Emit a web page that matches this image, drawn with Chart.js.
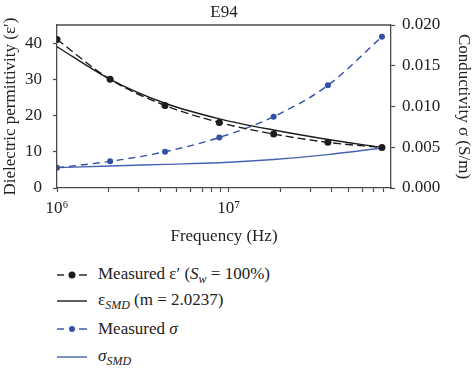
<!DOCTYPE html>
<html>
<head>
<meta charset="utf-8">
<script src="https://cdn.jsdelivr.net/npm/chart.js@4.4.0/dist/chart.umd.min.js"></script>
<style>
  body { margin: 0; background: #fff; }
  #wrap { position: relative; width: 474px; height: 250px; }
  #leyenda { position: relative; width: 474px; height: 119px; font-family: "Liberation Serif", "DejaVu Serif", serif; font-size: 17px; color: #222; }
  .fila { position: absolute; left: 57px; height: 24px; display: flex; align-items: center; white-space: nowrap; }
  .fila svg { margin-right: 11px; flex: none; }
  sub { font-size: 12px; vertical-align: -4px; }
</style>
</head>
<body>
<div id="wrap"><canvas id="grafica"></canvas></div>
<div id="leyenda"></div>
<script>
// valores
const frecuencias = [1.0e6, 2.04e6, 4.26e6, 8.83e6, 1.83e7, 3.79e7, 7.83e7];
const permitividadMedida = [41.0, 30.0, 22.8, 18.1, 14.9, 12.6, 11.2];
const permitividadSMD = [39.0, 30.0, 23.4, 19.1, 16.0, 13.4, 11.2];
const conductividadMedida = [0.00249, 0.00327, 0.00445, 0.00620, 0.00875, 0.01260, 0.01857];
const conductividadSMD = [0.0025, 0.0027, 0.0029, 0.0031, 0.0035, 0.0041, 0.0049];

const ticksPermitividad = [0, 10, 20, 30, 40];
const ticksConductividad = [0, 0.005, 0.010, 0.015, 0.020];
const ticksFrecuencia = [1e6, 2e6, 3e6, 4e6, 5e6, 6e6, 7e6, 8e6, 9e6, 1e7, 2e7, 3e7, 4e7, 5e7, 6e7, 7e7, 8e7];
const etiquetasFrecuencia = { 1000000: '10⁶', 10000000: '10⁷' };

const etiquetasLeyenda = [
  'Measured ε′ (<i>S</i><sub><i>w</i></sub> = 100%)',
  'ε<sub><i>SMD</i></sub> (m = 2.0237)',
  'Measured <i>σ</i>',
  '<i>σ</i><sub><i>SMD</i></sub>'
];

const fuente = '"Liberation Serif", "DejaVu Serif", serif';
const colorTexto = '#222';
const colorEje = '#4a4a4a';
const negro = '#1c1c1c';
const azul = '#3450a4';
const azulLinea = '#4862b2';

function puntos(valores) {
  return frecuencias.map((f, i) => ({ x: f, y: valores[i] }));
}

const marco = {
  id: 'marco',
  afterDraw(chart) {
    const { ctx, chartArea } = chart;
    ctx.save();
    ctx.strokeStyle = colorEje;
    ctx.lineWidth = 1.3;
    ctx.beginPath();
    ctx.moveTo(chartArea.left, chartArea.top);
    ctx.lineTo(chartArea.right, chartArea.top);
    ctx.stroke();
    ctx.restore();
  }
};

const ejeComun = {
  grid: { drawOnChartArea: false, drawTicks: true, tickLength: 4, color: colorEje, tickColor: colorEje, tickWidth: 1.2 },
  border: { display: true, color: colorEje, width: 1.3 }
};

const ctx = document.getElementById('grafica').getContext('2d');
const grafica = new Chart(ctx, {
  type: 'line',
  data: {
    datasets: [
      {
        label: 'Measured ε′',
        data: puntos(permitividadMedida),
        yAxisID: 'y',
        borderColor: negro,
        backgroundColor: negro,
        borderWidth: 1.4,
        borderDash: [8, 4],
        pointRadius: 3.5,
        pointBorderWidth: 0,
        cubicInterpolationMode: 'monotone',
        fill: false,
        order: 1
      },
      {
        label: 'ε SMD',
        data: puntos(permitividadSMD),
        yAxisID: 'y',
        borderColor: negro,
        borderWidth: 1.4,
        pointRadius: 0,
        cubicInterpolationMode: 'monotone',
        fill: false,
        order: 2
      },
      {
        label: 'Measured σ',
        data: puntos(conductividadMedida),
        yAxisID: 'y1',
        borderColor: azul,
        backgroundColor: azul,
        borderWidth: 1.4,
        borderDash: [7, 5],
        pointRadius: 3,
        pointBorderWidth: 0,
        cubicInterpolationMode: 'monotone',
        fill: false,
        order: 3
      },
      {
        label: 'σ SMD',
        data: puntos(conductividadSMD),
        yAxisID: 'y1',
        borderColor: azulLinea,
        borderWidth: 1.4,
        pointRadius: 0,
        cubicInterpolationMode: 'monotone',
        fill: false,
        order: 4
      }
    ]
  },
  options: {
    responsive: true,
    maintainAspectRatio: false,
    animation: false,
    layout: { padding: 0 },
    plugins: {
      legend: { display: false },
      tooltip: { enabled: false },
      title: {
        display: true,
        text: 'E94',
        fullSize: false,
        color: colorTexto,
        font: { family: fuente, size: 17, weight: 'normal' },
        padding: { top: 2, bottom: 2.6 }
      }
    },
    scales: {
      x: {
        ...ejeComun,
        type: 'logarithmic',
        position: 'bottom',
        min: 1e6,
        max: 8.84e7,
        afterBuildTicks: scale => { scale.ticks = ticksFrecuencia.map(v => ({ value: v })); },
        afterFit: scale => { scale.height = 62; },
        ticks: {
          autoSkip: false,
          maxRotation: 0,
          padding: 6,
          color: colorTexto,
          font: { family: fuente, size: 17 },
          callback: v => etiquetasFrecuencia[v] || ''
        },
        title: {
          display: true,
          text: 'Frequency (Hz)',
          color: colorTexto,
          font: { family: fuente, size: 17 },
          padding: { top: 0, bottom: 3 }
        }
      },
      y: {
        ...ejeComun,
        position: 'left',
        min: 0,
        max: 45,
        afterBuildTicks: scale => { scale.ticks = ticksPermitividad.map(v => ({ value: v })); },
        afterFit: scale => { scale.width = 57; },
        ticks: {
          padding: 11,
          color: colorTexto,
          font: { family: fuente, size: 17 }
        },
        title: {
          display: true,
          text: 'Dielectric permittivity (ε′)',
          color: colorTexto,
          font: { family: fuente, size: 17 },
          padding: { top: 0, bottom: 0 }
        }
      },
      y1: {
        ...ejeComun,
        position: 'right',
        min: 0,
        max: 0.02,
        afterBuildTicks: scale => { scale.ticks = ticksConductividad.map(v => ({ value: v })); },
        afterFit: scale => { scale.width = 83; },
        ticks: {
          padding: 7,
          color: colorTexto,
          font: { family: fuente, size: 17 },
          callback: v => v.toFixed(3)
        },
        title: {
          display: true,
          text: 'Conductivity σ (S/m)',
          color: colorTexto,
          font: { family: fuente, size: 17 },
          padding: { top: 0, bottom: 0 }
        }
      }
    }
  },
  plugins: [marco]
});

// leyenda en html, colores tomados de los datasets
function muestra(ds) {
  const color = ds.borderColor;
  if (ds.pointRadius > 0) {
    return `<svg width="30" height="10"><line x1="0" y1="5" x2="7" y2="5" stroke="${color}" stroke-width="1.4"/>` +
      `<circle cx="15" cy="5" r="${ds.pointRadius}" fill="${color}"/>` +
      `<line x1="22" y1="5" x2="30" y2="5" stroke="${color}" stroke-width="1.4"/></svg>`;
  }
  return `<svg width="30" height="10"><line x1="0" y1="5" x2="30" y2="5" stroke="${color}" stroke-width="1.4"/></svg>`;
}

const leyenda = document.getElementById('leyenda');
const filasY = [13, 39, 67, 95];
grafica.data.datasets.forEach((ds, i) => {
  const fila = document.createElement('div');
  fila.className = 'fila';
  fila.style.top = filasY[i] + 'px';
  fila.innerHTML = muestra(ds) + `<span>${etiquetasLeyenda[i]}</span>`;
  leyenda.appendChild(fila);
});
</script>
</body>
</html>
